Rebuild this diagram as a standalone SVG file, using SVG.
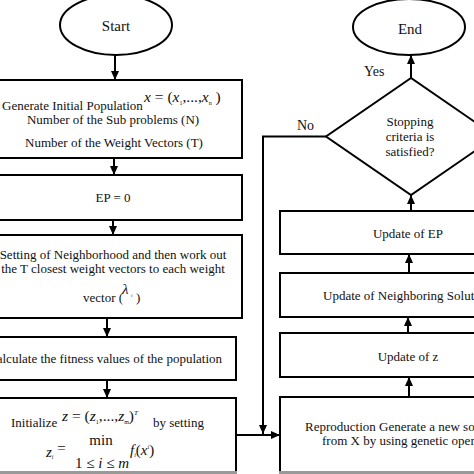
<svg xmlns="http://www.w3.org/2000/svg" width="474" height="474" viewBox="0 0 474 474">
<defs>
<marker id="ah" markerUnits="userSpaceOnUse" markerWidth="10" markerHeight="8" refX="9" refY="4" orient="auto">
<path d="M0,0 L9,4 L0,8 z" fill="#000"/>
</marker>
<style>
.b{fill:#fff;stroke:#000;stroke-width:2}
.t{font-family:"Liberation Serif","Times New Roman",serif;font-size:13px;fill:#111}
.c{text-anchor:middle}
.m{font-family:"Liberation Serif","Times New Roman",serif;fill:#111}
.i{font-style:italic}
.l{fill:none;stroke:#000;stroke-width:2}
.g{stroke:#999;stroke-width:3}
</style>
</defs>
<rect width="474" height="474" fill="#fff"/>
<g id="start">
<ellipse class="b" cx="116" cy="25" rx="56" ry="30"/>
<text class="t c" x="116" y="31" style="font-size:15px">Start</text>
</g>
<g id="init-pop">
<rect class="b" x="-5" y="80" width="247" height="78"/>
<text class="t" x="2" y="110">Generate Initial Population</text>
<text class="m" x="144" y="102" font-size="15.5"><tspan class="i">x</tspan> = (<tspan class="i">x</tspan><tspan font-size="6" dy="3">1</tspan><tspan dy="-3">,...,</tspan><tspan class="i">x</tspan><tspan font-size="6" dy="3">n</tspan><tspan dy="-3"> )</tspan></text>
<text class="t c" x="113" y="124">Number of the Sub problems (N)</text>
<text class="t c" x="114" y="147">Number of the Weight Vectors (T)</text>
</g>
<g id="ep0">
<rect class="b" x="-5" y="175" width="247" height="45"/>
<text class="t c" x="113" y="202">EP = 0</text>
</g>
<g id="neighborhood">
<rect class="b" x="-5" y="235" width="247" height="83"/>
<text class="t c" x="113" y="259">Setting of Neighborhood and then work out</text>
<text class="t c" x="113" y="273">the T closest weight vectors to each weight</text>
<text class="t" x="83" y="302">vector (</text>
<text class="m i" x="122" y="294" font-size="15">λ</text>
<text class="m i" x="131" y="297" font-size="5">i</text>
<text class="t" x="136" y="302">)</text>
</g>
<g id="fitness">
<rect class="b" x="-5" y="337" width="241" height="43"/>
<text class="t" x="222" y="363" text-anchor="end">Calculate the fitness values of the population</text>
</g>
<g id="initz">
<rect class="b" x="-5" y="398" width="241" height="82"/>
<line class="g" x1="-5" y1="472.5" x2="237" y2="472.5"/>
<text class="t" x="11" y="427">Initialize</text>
<text class="m" x="62" y="421" font-size="15.5"><tspan class="i">z</tspan> = (<tspan class="i">z</tspan><tspan font-size="6" dy="3">1</tspan><tspan dy="-3">,...,</tspan><tspan class="i">z</tspan><tspan font-size="6" dy="3">m</tspan><tspan dy="-3">)</tspan><tspan font-size="7" dy="-6" class="i">T</tspan></text>
<text class="t" x="153" y="427">by setting</text>
<text class="m c" x="101" y="445" font-size="15">min</text>
<text class="m" x="46" y="457" font-size="15"><tspan class="i">z</tspan><tspan font-size="6" dy="2" class="i">i</tspan><tspan dy="-6"> =</tspan></text>
<text class="m" x="75" y="468" font-size="15">1 ≤ <tspan class="i">i</tspan> ≤ <tspan class="i">m</tspan></text>
<text class="m" x="130" y="455" font-size="15"><tspan class="i">f</tspan><tspan font-size="6" dy="2" class="i">i</tspan><tspan dy="-2">(</tspan><tspan class="i">x</tspan><tspan font-size="6" dy="-6" class="i">i</tspan><tspan dy="6">)</tspan></text>
</g>
<g id="end">
<ellipse class="b" cx="409" cy="27" rx="56" ry="28"/>
<text class="t c" x="410" y="34" style="font-size:15px">End</text>
</g>
<g id="stop">
<polygon class="b" points="411,78 326,136.5 411,195 496,136.5"/>
<text class="t c" x="410" y="126">Stopping</text>
<text class="t c" x="410" y="141">criteria is</text>
<text class="t c" x="410" y="156">satisfied?</text>
</g>
<g id="update-ep">
<rect class="b" x="280" y="211" width="200" height="43"/>
<text class="t c" x="408" y="238">Update of EP</text>
</g>
<g id="update-neigh">
<rect class="b" x="280" y="273" width="200" height="44"/>
<text class="t" x="323" y="300">Update of Neighboring Solutions</text>
</g>
<g id="update-z">
<rect class="b" x="280" y="333" width="200" height="44"/>
<text class="t c" x="408" y="361">Update of z</text>
</g>
<g id="reproduction">
<rect class="b" x="280" y="397" width="200" height="83"/>
<line class="g" x1="279" y1="472.5" x2="474" y2="472.5"/>
<text class="t" x="305" y="431">Reproduction Generate a new solution</text>
<text class="t" x="322" y="445">from X by using genetic operators</text>
</g>
<g id="connectors">
<line class="l" x1="115" y1="55" x2="115" y2="80" marker-end="url(#ah)"/>
<line class="l" x1="114" y1="158" x2="114" y2="175" marker-end="url(#ah)"/>
<line class="l" x1="113" y1="220" x2="113" y2="235" marker-end="url(#ah)"/>
<line class="l" x1="107" y1="318" x2="107" y2="337" marker-end="url(#ah)"/>
<line class="l" x1="107" y1="380" x2="107" y2="398" marker-end="url(#ah)"/>
<line class="l" x1="236" y1="435" x2="280" y2="435" marker-end="url(#ah)"/>
<line class="l" x1="409" y1="397" x2="409" y2="377" marker-end="url(#ah)"/>
<line class="l" x1="408" y1="333" x2="408" y2="317" marker-end="url(#ah)"/>
<line class="l" x1="409" y1="273" x2="409" y2="254" marker-end="url(#ah)"/>
<line class="l" x1="411" y1="211" x2="411" y2="195" marker-end="url(#ah)"/>
<line class="l" x1="411" y1="78" x2="411" y2="55" marker-end="url(#ah)"/>
<polyline class="l" points="326,136.5 263,136.5 263,434" marker-end="url(#ah)"/>
<text class="t" x="364" y="76" style="font-size:14px">Yes</text>
<text class="t" x="297" y="130" style="font-size:14px">No</text>
</g>
</svg>
